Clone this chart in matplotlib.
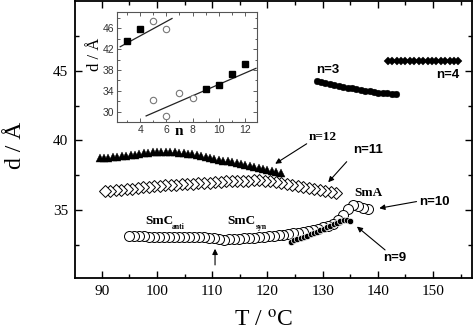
import matplotlib
matplotlib.use('Agg')
import matplotlib.pyplot as plt
from matplotlib.ticker import FixedLocator

plt.rcParams['mathtext.fontset'] = 'stix'
SERIF = 'Liberation Serif'
SANS = 'Liberation Sans'

# ---------------- data (main panel) ----------------
T12 = [89.6, 90.4, 91.2, 92.0, 92.8, 93.6, 94.4, 95.2, 96.0, 96.8, 97.6, 98.4, 99.2, 100.0,
       100.8, 101.6, 102.4, 103.2, 104.0, 104.8, 105.6, 106.4, 107.2, 108.0, 108.8, 109.6,
       110.4, 111.2, 112.0, 112.8, 113.6, 114.4, 115.2, 116.0, 116.8, 117.6, 118.4, 119.2,
       120.0, 120.8, 121.6, 122.4]
d12 = [38.72, 38.74, 38.77, 38.80, 38.83, 38.86, 38.90, 38.94, 38.98, 39.02, 39.06, 39.10,
       39.14, 39.17, 39.19, 39.20, 39.19, 39.17, 39.13, 39.08, 39.04, 38.99, 38.94, 38.88,
       38.82, 38.76, 38.69, 38.62, 38.55, 38.49, 38.42, 38.36, 38.29, 38.22, 38.15, 38.09,
       38.02, 37.96, 37.89, 37.82, 37.75, 37.68]

T11 = [90.5, 91.5, 92.5, 93.5, 94.5, 95.5, 96.5, 97.5, 98.5, 99.5, 100.5, 101.5, 102.5,
       103.5, 104.5, 105.5, 106.5, 107.5, 108.5, 109.5, 110.5, 111.5, 112.5, 113.5, 114.5,
       115.5, 116.5, 117.5, 118.5, 119.5, 120.5, 121.5, 122.5, 123.5, 124.5, 125.5, 126.5,
       127.5, 128.5, 129.5, 130.5, 131.5, 132.5]
d11 = [36.35, 36.38, 36.42, 36.46, 36.50, 36.54, 36.58, 36.62, 36.66, 36.70, 36.73, 36.76,
       36.79, 36.82, 36.85, 36.87, 36.89, 36.91, 36.94, 36.97, 37.00, 37.03, 37.05, 37.07,
       37.09, 37.10, 37.11, 37.12, 37.12, 37.10, 37.06, 37.01, 36.95, 36.88, 36.81, 36.73,
       36.65, 36.58, 36.51, 36.44, 36.36, 36.28, 36.20]

T10 = [95.0, 95.9, 96.8, 97.7, 98.6, 99.5, 100.4, 101.3, 102.2, 103.1, 104.0, 104.9, 105.8,
       106.7, 107.6, 108.5, 109.4, 110.3, 111.2, 112.1, 113.0, 113.9, 114.8, 115.7, 116.6,
       117.5, 118.4, 119.3, 120.2, 121.1, 122.0, 122.9, 123.8, 124.7, 125.6, 126.5, 127.4,
       128.3, 129.2, 130.1, 131.0, 131.9, 132.8, 133.7, 134.6, 135.5, 136.4, 137.3, 138.2]
d10 = [33.10, 33.10, 33.09, 33.09, 33.08, 33.08, 33.07, 33.07, 33.06, 33.06, 33.05, 33.05,
       33.04, 33.04, 33.03, 33.02, 33.01, 32.98, 32.88, 32.87, 32.88, 32.90, 32.92, 32.95,
       32.98, 33.01, 33.04, 33.07, 33.10, 33.14, 33.18, 33.22, 33.27, 33.32, 33.37, 33.43,
       33.50, 33.57, 33.65, 33.75, 33.87, 34.02, 34.25, 34.62, 35.05, 35.32, 35.28, 35.15,
       35.05]

T9 = [124.2, 124.8, 125.4, 126.0, 126.6, 127.2, 127.8, 128.4, 129.0, 129.6, 130.2, 130.8,
      131.4, 132.0, 132.6, 133.2, 133.8, 134.4, 135.0]
d9 = [32.72, 32.80, 32.88, 32.97, 33.06, 33.15, 33.24, 33.33, 33.43, 33.53, 33.63, 33.74,
      33.85, 33.97, 34.09, 34.20, 34.27, 34.27, 34.20]

T3 = [128.9, 129.7, 130.5, 131.3, 132.1, 132.9, 133.7, 134.5, 135.3, 136.1, 136.9, 137.7,
      138.5, 139.3, 140.1, 140.9, 141.7, 142.5, 143.3]
d3 = [44.30, 44.22, 44.14, 44.06, 43.99, 43.92, 43.86, 43.80, 43.74, 43.68, 43.63, 43.58,
      43.53, 43.49, 43.45, 43.42, 43.39, 43.36, 43.34]

T4 = [141.8, 142.6, 143.4, 144.2, 145.0, 145.8, 146.6, 147.4, 148.2, 149.0, 149.8, 150.6,
      151.4, 152.2, 153.0, 153.8, 154.6]
d4 = [45.74, 45.74, 45.75, 45.75, 45.75, 45.75, 45.75, 45.75, 45.75, 45.75, 45.75, 45.75,
      45.75, 45.75, 45.75, 45.75, 45.75]

x_major = [90, 100, 110, 120, 130, 140, 150]
x_minor = [95, 105, 115, 125, 135, 145, 155]
y_major = [35, 40, 45]
y_minor = [32.5, 37.5, 42.5, 47.5]

# ---------------- data (inset) ----------------
n_sq = [3, 4, 9, 10, 11, 12]
d_sq = [43.56, 45.8, 34.3, 35.1, 37.2, 39.1]
n_ci = [5, 6, 5, 6, 7, 8]
d_ci = [47.46, 45.8, 32.25, 29.2, 33.5, 32.56]
fit_hi_n = [2.47, 6.43]
fit_hi_d = [42.47, 47.9]
fit_lo_n = [4.45, 12.85]
fit_lo_d = [29.17, 38.32]
in_xticks = [4, 6, 8, 10, 12]
in_xminor = [3, 5, 7, 9, 11]
in_yticks = [30, 34, 38, 42, 46]
in_yminor = [32, 36, 40, 44, 48]

# ---------------- figure ----------------
fig = plt.figure(figsize=(4.74, 3.33), dpi=100)
ax = fig.add_axes([0.1582, 0.1652, 0.8376, 0.8303])

ax.plot(T12, d12, ls='none', marker='^', ms=6, mfc='black', mec='black', mew=0.3)
ax.plot(T11[::-1], d11[::-1], ls='none', marker='D', ms=6.3, mfc='white', mec='black', mew=0.7)
ax.plot(T10[::-1], d10[::-1], ls='none', marker='o', ms=7.2, mfc='white', mec='black', mew=0.7)
ax.plot(T9, d9, ls='none', marker='o', ms=4.6, mfc='black', mec='white', mew=0.5)
ax.plot(T3, d3, ls='none', marker='o', ms=4.8, mfc='black', mec='black', mew=0.3)
ax.plot(T4, d4, ls='none', marker='D', ms=4.5, mfc='black', mec='black', mew=0.3)

ax.set_xlim(85.13, 157.05)
ax.set_ylim(30.1, 50.0)
ax.xaxis.set_major_locator(FixedLocator(x_major))
ax.xaxis.set_minor_locator(FixedLocator(x_minor))
ax.yaxis.set_major_locator(FixedLocator(y_major))
ax.yaxis.set_minor_locator(FixedLocator(y_minor))
ax.tick_params(which='both', direction='in', top=True, right=True, width=1.0)
ax.tick_params(which='major', length=5, pad=5)
ax.tick_params(which='minor', length=3)
for lab in ax.get_xticklabels() + ax.get_yticklabels():
    lab.set_fontfamily(SERIF)
    lab.set_fontsize(11)
for sp in ax.spines.values():
    sp.set_linewidth(1.3)

ax.set_xlabel(r'T / $^{\mathrm{o}}$C', fontfamily=SERIF, fontsize=17)
ax.xaxis.set_label_coords(0.476, -0.155)
ax.xaxis.label.set_va('center')
ax.set_ylabel('d / Å', fontfamily=SERIF, fontsize=17)
ax.yaxis.set_label_coords(-0.15, 0.48)
ax.yaxis.label.set_va('center')

# labels
sans_b = dict(fontfamily=SANS, fontweight='bold', fontsize=9.5, ha='center', va='center')
serif_b = dict(fontfamily=SERIF, fontweight='bold', fontsize=9.5, ha='center', va='center')
ax.text(130.9, 45.07, 'n=3', **sans_b)
ax.text(152.7, 44.70, 'n=4', **sans_b)
ax.text(130.0, 40.25, 'n=12', **serif_b)
ax.text(138.25, 39.32, 'n=11', **sans_b)
ax.text(138.25, 36.20, 'SmA', **serif_b)
ax.text(150.3, 35.60, 'n=10', **sans_b)
ax.text(143.1, 31.57, 'n=9', **sans_b)

ax.text(97.8, 34.23, 'SmC', fontfamily=SERIF, fontweight='bold', fontsize=9.5, ha='left', va='center')
ax.text(102.6, 33.78, 'anti', fontfamily=SERIF, fontweight='bold', fontsize=5.5, ha='left', va='center')
ax.text(112.8, 34.23, 'SmC', fontfamily=SERIF, fontweight='bold', fontsize=9.5, ha='left', va='center')
ax.text(117.9, 33.78, 'syn', fontfamily=SERIF, fontweight='bold', fontsize=5.5, ha='left', va='center')

arrow = dict(arrowstyle='-|>', color='black', lw=0.8, mutation_scale=8, shrinkA=0, shrinkB=0)
ax.annotate('', xy=(121.4, 38.32), xytext=(127.1, 39.76), arrowprops=arrow)
ax.annotate('', xy=(131.0, 36.99), xytext=(134.35, 38.47), arrowprops=arrow)
ax.annotate('', xy=(140.25, 35.12), xytext=(147.0, 35.60), arrowprops=arrow)
ax.annotate('', xy=(136.2, 33.80), xytext=(141.3, 32.12), arrowprops=arrow)
ax.annotate('', xy=(110.5, 32.20), xytext=(110.5, 31.04), arrowprops=arrow)

# ---------------- inset ----------------
ins = fig.add_axes([0.2462, 0.6336, 0.2966, 0.3312])
ins.plot(fit_hi_n, fit_hi_d, color='#222222', lw=0.9)
ins.plot(fit_lo_n, fit_lo_d, color='#222222', lw=0.9)
ins.plot(n_sq, d_sq, ls='none', marker='s', ms=4.2, mfc='black', mec='black')
ins.plot(n_ci, d_ci, ls='none', marker='o', ms=4.6, mfc='white', mec='#777777', mew=0.8)
ins.set_xlim(2.2, 12.95)
ins.set_ylim(28.0, 49.2)
ins.xaxis.set_major_locator(FixedLocator(in_xticks))
ins.xaxis.set_minor_locator(FixedLocator(in_xminor))
ins.yaxis.set_major_locator(FixedLocator(in_yticks))
ins.yaxis.set_minor_locator(FixedLocator(in_yminor))
ins.tick_params(which='both', direction='in', top=True, right=True, width=0.6, colors='#444444')
ins.tick_params(which='major', length=3, pad=2, labelsize=7.5)
ins.tick_params(which='minor', length=1.8)
for lab in ins.get_xticklabels() + ins.get_yticklabels():
    lab.set_fontfamily(SANS)
    lab.set_color('#333333')
for sp in ins.spines.values():
    sp.set_linewidth(0.8)
    sp.set_color('#555555')
ins.set_xlabel('n', fontfamily=SERIF, fontweight='bold', fontsize=11)
ins.xaxis.set_label_coords(0.44, -0.09)
ins.xaxis.label.set_va('center')
ins.set_ylabel('d / Å', fontfamily=SERIF, fontsize=12)
ins.yaxis.set_label_coords(-0.155, 0.61)
ins.yaxis.label.set_va('center')

fig.savefig('out.png', dpi=100)
